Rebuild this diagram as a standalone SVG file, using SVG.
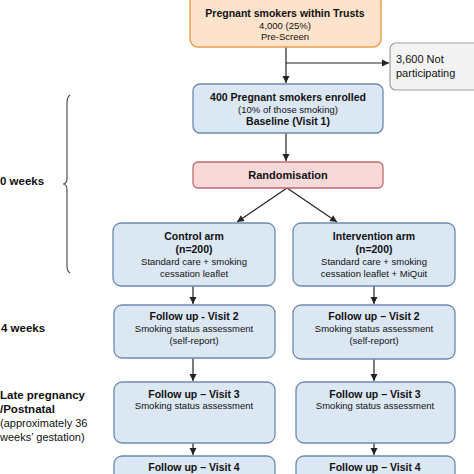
<svg xmlns="http://www.w3.org/2000/svg" width="474" height="474" viewBox="0 0 474 474">
<defs>
<marker id="ah" markerWidth="8" markerHeight="8" refX="7" refY="4" orient="auto" markerUnits="userSpaceOnUse">
<path d="M0,0.5 L7,4 L0,7.5 z" fill="#222"/>
</marker>
<style>
text{font-family:"Liberation Sans",Arial,sans-serif;fill:#111;}
.b{font-weight:bold;font-size:10.5px;}
.n{font-size:9.5px;}
.lb{font-weight:bold;font-size:11.5px;}
.ln2{font-size:11px;}
.c{text-anchor:middle;}
.blue{fill:#dce7f4;stroke:#6c89b0;stroke-width:1.3;}
.org{fill:#fde3cb;stroke:#eba052;stroke-width:1.5;}
.red{fill:#f8d8d8;stroke:#c26a6a;stroke-width:1.3;}
.gry{fill:#f3f3f3;stroke:#a0a0a0;stroke-width:1.2;}
.ln{stroke:#222;stroke-width:1.2;fill:none;}
</style>
</defs>
<rect width="474" height="474" fill="#fff"/>
<g id="connectors">
<line class="ln" x1="286" y1="47" x2="286" y2="83" marker-end="url(#ah)"/>
<line class="ln" x1="286" y1="63" x2="389" y2="63" marker-end="url(#ah)"/>
<line class="ln" x1="286" y1="133" x2="286" y2="161" marker-end="url(#ah)"/>
<line class="ln" x1="287" y1="188" x2="237" y2="222" marker-end="url(#ah)"/>
<line class="ln" x1="287" y1="188" x2="337" y2="222" marker-end="url(#ah)"/>
<line class="ln" x1="193" y1="286" x2="193" y2="304" marker-end="url(#ah)"/>
<line class="ln" x1="374" y1="286" x2="374" y2="304" marker-end="url(#ah)"/>
<line class="ln" x1="193" y1="358" x2="193" y2="381" marker-end="url(#ah)"/>
<line class="ln" x1="374" y1="358" x2="374" y2="381" marker-end="url(#ah)"/>
<line class="ln" x1="193" y1="443" x2="193" y2="455" marker-end="url(#ah)"/>
<line class="ln" x1="374" y1="443" x2="374" y2="455" marker-end="url(#ah)"/>
</g>
<g id="brace">
<path d="M70,95 Q67,97 67,103 L67,178 Q67,184 63,184 Q67,184 67,190 L67,266 Q67,271 70,273" fill="none" stroke="#555" stroke-width="1.2"/>
</g>
<g id="labels">
<text class="lb" x="0" y="185">0 weeks</text>
<text class="lb" x="1" y="332">4 weeks</text>
<text class="lb" x="0" y="399">Late pregnancy</text>
<text class="lb" x="0" y="413">/Postnatal</text>
<text class="ln2" x="0" y="427">(approximately 36</text>
<text class="ln2" x="0" y="441">weeks’ gestation)</text>
</g>
<g id="prescreen">
<rect class="org" x="190" y="-6" width="191" height="53" rx="8"/>
<text class="b c" x="285" y="17">Pregnant smokers within Trusts</text>
<text class="n c" x="285" y="29">4,000 (25%)</text>
<text class="n c" x="285" y="40">Pre-Screen</text>
</g>
<g id="notparticipating">
<rect class="gry" x="390" y="43" width="90" height="47" rx="6"/>
<text x="396" y="63" style="font-size:11px">3,600 Not</text>
<text x="396" y="77" style="font-size:11px">participating</text>
</g>
<g id="enrolled">
<rect class="blue" x="193" y="84" width="190" height="49" rx="7"/>
<text class="b c" x="288" y="101">400 Pregnant smokers enrolled</text>
<text class="n c" x="288" y="113">(10% of those smoking)</text>
<text class="b c" x="288" y="125">Baseline (Visit 1)</text>
</g>
<g id="randomisation">
<rect class="red" x="193" y="162" width="190" height="26" rx="5"/>
<text class="b c" x="288" y="179" style="font-size:11px">Randomisation</text>
</g>
<g id="control">
<rect class="blue" x="113" y="223" width="162" height="63" rx="8"/>
<text class="b c" x="194" y="240">Control arm</text>
<text class="b c" x="194" y="253">(n=200)</text>
<text class="n c" x="194" y="265">Standard care + smoking</text>
<text class="n c" x="194" y="277">cessation leaflet</text>
</g>
<g id="intervention">
<rect class="blue" x="293" y="223" width="162" height="63" rx="8"/>
<text class="b c" x="374" y="240">Intervention arm</text>
<text class="b c" x="374" y="253">(n=200)</text>
<text class="n c" x="374" y="265">Standard care + smoking</text>
<text class="n c" x="374" y="277">cessation leaflet + MiQuit</text>
</g>
<g id="c-visit2">
<rect class="blue" x="114" y="305" width="161" height="53" rx="8"/>
<text class="b c" x="194" y="320">Follow up - Visit 2</text>
<text class="n c" x="194" y="332">Smoking status assessment</text>
<text class="n c" x="194" y="344">(self-report)</text>
</g>
<g id="i-visit2">
<rect class="blue" x="293" y="305" width="162" height="54" rx="8"/>
<text class="b c" x="374" y="320">Follow up – Visit 2</text>
<text class="n c" x="374" y="332">Smoking status assessment</text>
<text class="n c" x="374" y="344">(self-report)</text>
</g>
<g id="c-visit3">
<rect class="blue" x="114" y="382" width="161" height="61" rx="8"/>
<text class="b c" x="194" y="398">Follow up – Visit 3</text>
<text class="n c" x="194" y="409">Smoking status assessment</text>
</g>
<g id="i-visit3">
<rect class="blue" x="296" y="382" width="159" height="61" rx="8"/>
<text class="b c" x="375" y="398">Follow up – Visit 3</text>
<text class="n c" x="375" y="409">Smoking status assessment</text>
</g>
<g id="c-visit4">
<rect class="blue" x="114" y="456" width="161" height="40" rx="8"/>
<text class="b c" x="194" y="471">Follow up – Visit 4</text>
</g>
<g id="i-visit4">
<rect class="blue" x="296" y="456" width="159" height="40" rx="8"/>
<text class="b c" x="375" y="471">Follow up – Visit 4</text>
</g>
</svg>
